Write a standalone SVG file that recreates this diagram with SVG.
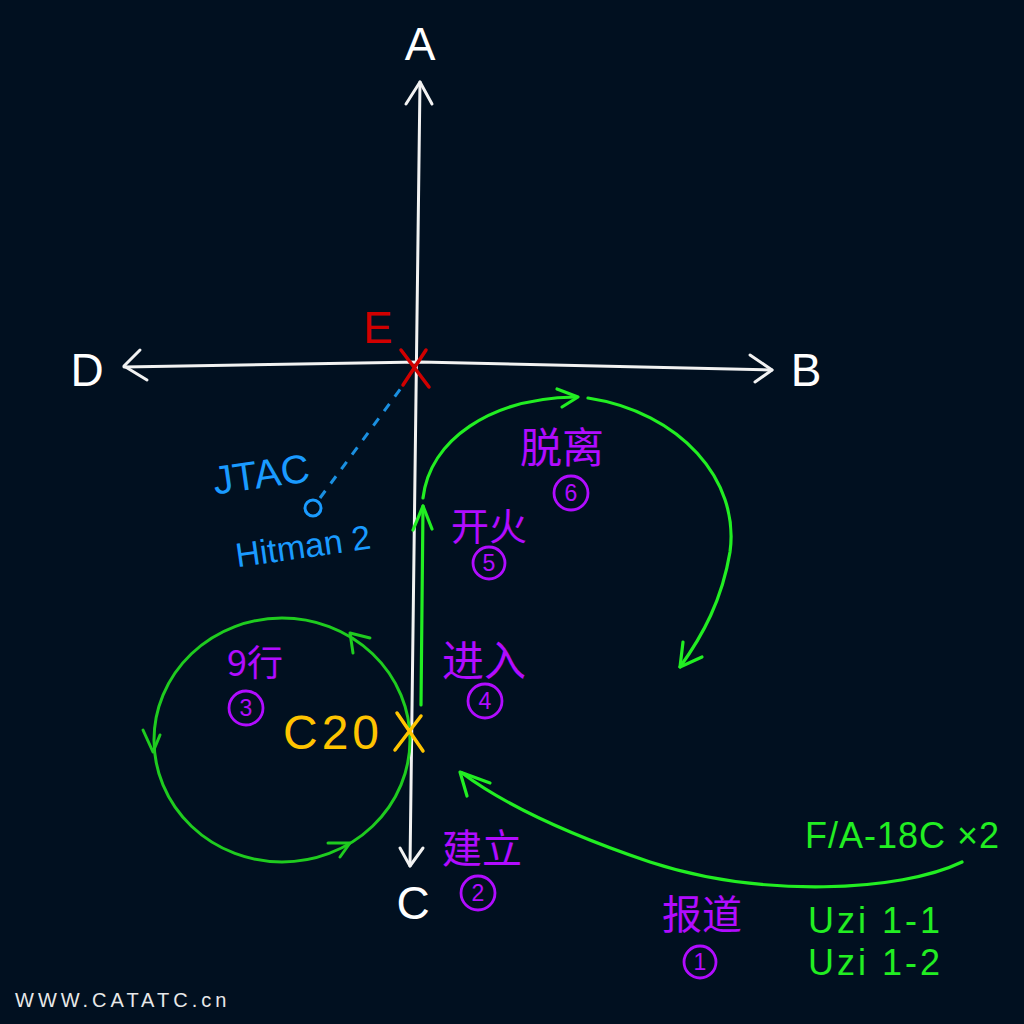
<svg xmlns="http://www.w3.org/2000/svg" width="1024" height="1024" viewBox="0 0 1024 1024">
<style>
.axis{stroke:#f2f2f2;stroke-width:3;fill:none;stroke-linecap:round;stroke-linejoin:round}
.g{stroke:#22ee22;stroke-width:3.2;fill:none;stroke-linecap:round;stroke-linejoin:round}
.g2{stroke:#1fcc1f;stroke-width:3;fill:none;stroke-linecap:round;stroke-linejoin:round}
.lbl{font-family:"Liberation Sans","Noto Sans CJK SC",sans-serif;fill:#ffffff;text-anchor:middle;dominant-baseline:central}
.p{font-family:"Noto Sans CJK SC","Liberation Sans",sans-serif;fill:#b10cff;text-anchor:middle;dominant-baseline:central}
.pc{stroke:#b10cff;stroke-width:2.8;fill:none}
.pn{font-family:"Liberation Sans",sans-serif;fill:#b10cff;text-anchor:middle;dominant-baseline:central;font-size:23px}
.gt{font-family:"Liberation Sans",sans-serif;fill:#22ee22;font-size:36px}
</style>
<rect width="1024" height="1024" fill="#011020"/>
<g id="connectors">
  <path class="axis" d="M420,82 L410,866"/>
  <path class="axis" d="M406,104 L420,82 L432,104"/>
  <path class="axis" d="M400,848 L410,866 L423,848"/>
  <path class="axis" d="M124,367 L420,362 L772,370"/>
  <path class="axis" d="M140,350 L124,366 L147,380"/>
  <path class="axis" d="M750,355 L772,370 L755,382"/>
  <path d="M320,498 L404,384" stroke="#1a8fe0" stroke-width="3" stroke-dasharray="9,9" fill="none"/>
  <ellipse class="g2" cx="282" cy="740" rx="128" ry="122"/>
  <path class="g2" d="M353,653 L350,633 L370,638"/>
  <path class="g2" d="M143,730 L153,752 L160,735"/>
  <path class="g2" d="M328,843 L350,843 L340,857"/>
  <path class="g" d="M421,705 L423,506"/>
  <path class="g" d="M413,530 L423,506 L432,529"/>
  <path class="g" d="M423,498 C430,440 490,398 576,397"/>
  <path class="g" d="M557,389 L578,397 L562,407"/>
  <path class="g" d="M588,398 C680,412 740,480 730,552 C722,600 703,635 680,667"/>
  <path class="g" d="M683,642 L680,667 L702,657"/>
  <path class="g" stroke-width="4" d="M962,862 C900,892 760,898 650,862 C570,835 505,805 462,773"/>
  <path class="g" stroke-width="4" d="M467,796 L460,772 L490,783"/>
</g>
<g id="axis-labels">
  <text class="lbl" x="420" y="44" font-size="46">A</text>
  <text class="lbl" x="87" y="370" font-size="46">D</text>
  <text class="lbl" x="806" y="370" font-size="46">B</text>
  <text class="lbl" x="413" y="903" font-size="46">C</text>
</g>
<g id="target-E">
  <text class="lbl" x="378" y="327" font-size="44" style="fill:#d00000">E</text>
  <path d="M401,350 L429,387 M426,350 L403,385" stroke="#d00000" stroke-width="3.5" fill="none" stroke-linecap="round"/>
</g>
<g id="jtac">
  <circle cx="313" cy="508" r="8" stroke="#1a9bff" stroke-width="3" fill="none"/>
  <text class="lbl" x="261" y="474" font-size="40" transform="rotate(-8 261 474)" style="fill:#1a9bff">JTAC</text>
  <text class="lbl" x="303" y="546" font-size="34" transform="rotate(-8 303 546)" style="fill:#1a9bff">Hitman 2</text>
</g>
<g id="c20">
  <text class="lbl" x="333" y="732" font-size="48" letter-spacing="4" style="fill:#ffc400">C20</text>
  <path d="M397,713 L423,751 M421,716 L395,750" stroke="#ffc400" stroke-width="3.5" fill="none" stroke-linecap="round"/>
</g>
<g id="step1">
  <text class="p" x="702" y="912" font-size="40">报道</text>
  <circle class="pc" cx="700" cy="962" r="16"/>
  <text class="pn" x="700" y="962">1</text>
</g>
<g id="step2">
  <text class="p" x="482" y="846" font-size="40">建立</text>
  <circle class="pc" cx="478" cy="893" r="17"/>
  <text class="pn" x="478" y="893">2</text>
</g>
<g id="step3">
  <text class="p" x="255" y="660" font-size="36">9行</text>
  <circle class="pc" cx="246" cy="708" r="17"/>
  <text class="pn" x="246" y="708">3</text>
</g>
<g id="step4">
  <text class="p" x="484" y="657" font-size="42">进入</text>
  <circle class="pc" cx="485" cy="701" r="17"/>
  <text class="pn" x="485" y="701">4</text>
</g>
<g id="step5">
  <text class="p" x="489" y="523" font-size="38">开火</text>
  <circle class="pc" cx="489" cy="563" r="16"/>
  <text class="pn" x="489" y="563">5</text>
</g>
<g id="step6">
  <text class="p" x="562" y="444" font-size="42">脱离</text>
  <circle class="pc" cx="571" cy="493" r="17"/>
  <text class="pn" x="571" y="493">6</text>
</g>
<g id="flight">
  <text class="gt" x="805" y="848" letter-spacing="1">F/A-18C ×2</text>
  <text class="gt" x="808" y="933" letter-spacing="3">Uzi 1-1</text>
  <text class="gt" x="808" y="975" letter-spacing="3">Uzi 1-2</text>
</g>
<text x="15" y="1007" font-family="Liberation Sans, sans-serif" font-size="20" fill="#e8e8e8" letter-spacing="4">WWW.CATATC.cn</text>
</svg>
